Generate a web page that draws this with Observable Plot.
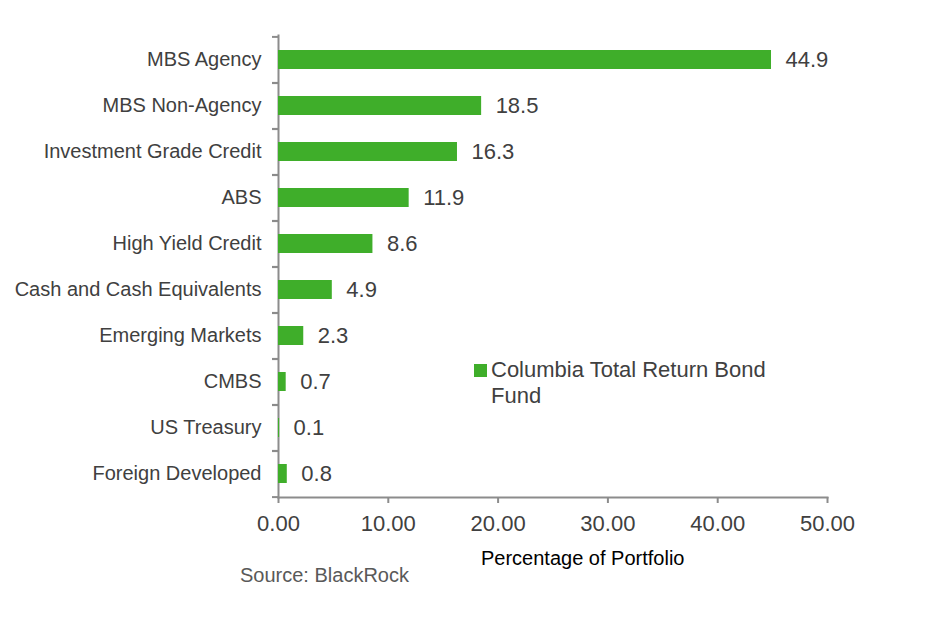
<!DOCTYPE html>
<html>
<head>
<meta charset="utf-8">
<script src="https://cdn.jsdelivr.net/npm/d3@7"></script>
<script src="https://cdn.jsdelivr.net/npm/@observablehq/plot@0.6"></script>
<style>
  body { margin: 0; background: #fff; }
  #wrap { position: relative; width: 926px; height: 623px; font-family: "Liberation Sans", Arial, sans-serif; overflow: hidden; }
  #wrap svg { position: absolute; left: 0; top: 0; }
  .ov { position: absolute; white-space: nowrap; }
</style>
</head>
<body>
<div id="wrap"></div>
<script>
const categories = ["MBS Agency", "MBS Non-Agency", "Investment Grade Credit", "ABS", "High Yield Credit",
  "Cash and Cash Equivalents", "Emerging Markets", "CMBS", "US Treasury", "Foreign Developed"];
const values = [44.9, 18.5, 16.3, 11.9, 8.6, 4.9, 2.3, 0.7, 0.1, 0.8];
const labels = ["44.9", "18.5", "16.3", "11.9", "8.6", "4.9", "2.3", "0.7", "0.1", "0.8"];
const xTicks = [0, 10, 20, 30, 40, 50];
const seriesName = "Columbia Total Return Bond Fund";
const axisTitle = "Percentage of Portfolio";
const sourceText = "Source: BlackRock";

const data = categories.map((c, i) => ({cat: c, v: values[i], lab: labels[i]}));

const W = 926, H = 623, mL = 278, mR = 99, mT = 35, mB = 126;
const step = (H - mT - mB) / categories.length;
const green = "#3FAE2A", axisGrey = "#8C8C8C", textGrey = "#404040";

const chart = Plot.plot({
  width: W, height: H,
  marginLeft: mL, marginRight: mR, marginTop: mT, marginBottom: mB,
  style: {fontFamily: "'Liberation Sans', Arial, sans-serif", background: "#fff"},
  x: {domain: [0, 50]},
  y: {domain: categories, paddingInner: 0.59, paddingOuter: 0.295},
  marks: [
    Plot.frame({anchor: "left", stroke: axisGrey, strokeWidth: 2}),
    Plot.frame({anchor: "bottom", stroke: axisGrey, strokeWidth: 2}),
    Plot.axisY({tickSize: 6, text: null, label: null, dy: -step / 2, stroke: axisGrey, strokeWidth: 2}),
    Plot.axisY({tickSize: 6, text: null, label: null, dy: step / 2, stroke: axisGrey, strokeWidth: 2}),
    Plot.axisY({tickSize: 0, tickPadding: 17, label: null, fontSize: 20, fill: textGrey}),
    Plot.axisX({ticks: xTicks, tickFormat: d3.format(".2f"), tickSize: 6, tickPadding: 12, label: null,
      fontSize: 22, fill: textGrey, stroke: axisGrey, strokeWidth: 2}),
    Plot.barX(data, {x: "v", y: "cat", fill: green}),
    Plot.text(data, {x: "v", y: "cat", text: "lab", textAnchor: "start", dx: 14, fontSize: 22, fill: textGrey})
  ]
});

const wrap = document.getElementById("wrap");
wrap.appendChild(chart);

function ov(html, css) {
  const d = document.createElement("div");
  d.className = "ov";
  d.innerHTML = html;
  Object.assign(d.style, css);
  wrap.appendChild(d);
  return d;
}
// legend
ov("", {left: "474px", top: "364px", width: "13px", height: "13px", background: green});
ov(seriesName.replace(" Fund", "<br>Fund"), {left: "491px", top: "357px", fontSize: "22px", lineHeight: "26px", color: textGrey, whiteSpace: "normal"});
// axis title
ov(axisTitle, {left: "481px", top: "547px", fontSize: "20px", color: "#000"});
// source
ov(sourceText, {left: "240px", top: "564px", fontSize: "20px", color: "#595959"});
</script>
</body>
</html>
